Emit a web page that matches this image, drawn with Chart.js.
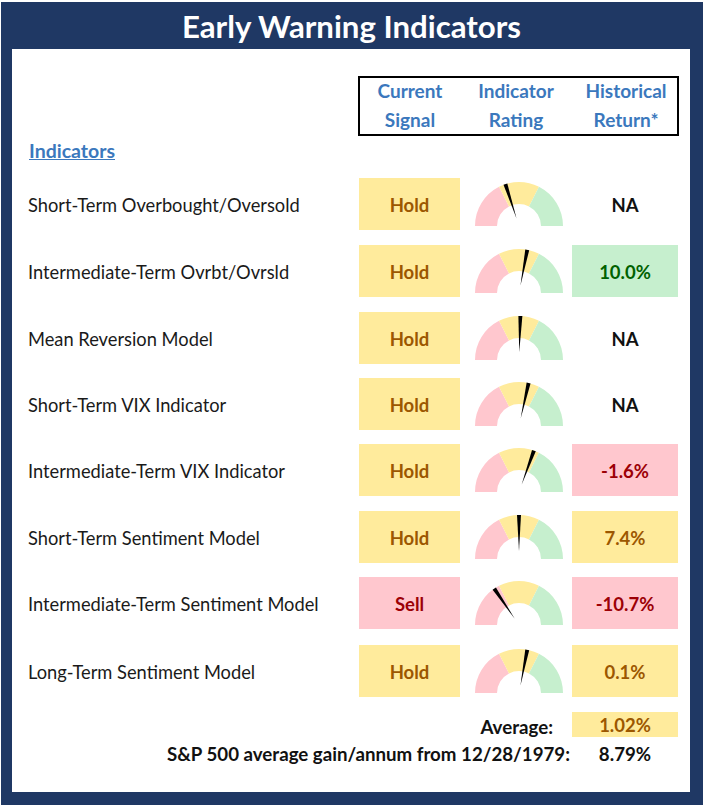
<!DOCTYPE html>
<html lang="en">
<head>
    <meta charset="UTF-8">
    <title>Early Warning Indicators</title>
    <style>
        html, body { margin: 0; padding: 0; background: #fff; }
        body { width: 703px; height: 807px; position: relative; overflow: hidden; font-family: Lato, "Open Sans", sans-serif; }
        .frame { position: absolute; left: 1px; top: 2px; width: 702px; height: 803px; background: #1f3864; }
        .paper { position: absolute; left: 12px; top: 49px; width: 678px; height: 743px; background: #fff; }
        .title { position: absolute; left: 0; width: 703px; top: 5px; text-align: center; color: #fff; font-size: 31.2px; font-weight: 700; line-height: 42px; }
        .headbox { position: absolute; left: 358px; top: 76px; width: 317px; height: 56px; border: 2px solid #000; }
        .head { position: absolute; width: 110px; text-align: center; color: #3b78bd; font-size: 19px; font-weight: 700; line-height: 29px; top: 76px; }
        .section { position: absolute; left: 29px; top: 139px; color: #3b78bd; font-size: 19.5px; font-weight: 700; text-decoration: underline; line-height: 24px; }
        .label { position: absolute; left: 28px; color: #1a1a1a; font-size: 18.3px; line-height: 24px; white-space: nowrap; }
        .cell { position: absolute; display: flex; align-items: center; justify-content: center; font-size: 18.5px; font-weight: 700; padding-top: 1px; box-sizing: border-box; }
        .signal { left: 359px; width: 101px; height: 52px; }
        .ret { left: 572px; width: 106px; height: 52px; }
        .hold { background: #ffeb9c; color: #9c5700; }
        .sell { background: #ffc7ce; color: #9c0006; }
        .buy { background: #c6efce; color: #006100; }
        .plain { color: #111; }
        .gauge { position: absolute; left: 475px; width: 88px; height: 44px; }
        .foot { position: absolute; font-size: 18.7px; font-weight: 700; color: #111; white-space: nowrap; line-height: 24px; }
    </style>
    <script src="https://cdn.jsdelivr.net/npm/chart.js"></script>
</head>
<body>
    <div class="frame"></div>
    <div class="paper"></div>
    <div class="title">Early Warning Indicators</div>
    <div class="headbox"></div>
    <div class="head" style="left:355px">Current<br>Signal</div>
    <div class="head" style="left:461px">Indicator<br>Rating</div>
    <div class="head" style="left:571px">Historical<br>Return*</div>
    <div class="section">Indicators</div>
    <div id="rows"></div>
    <div class="foot" style="right:150px;top:715px">Average:</div>
    <div class="cell hold" style="left:572px;width:106px;top:712px;height:25px">1.02%</div>
    <div class="foot" style="right:133px;top:742px">S&amp;P 500 average gain/annum from 12/28/1979:</div>
    <div class="foot" style="left:572px;width:106px;text-align:center;top:742px">8.79%</div>

    <script>
        const indicators = [
            'Short-Term Overbought/Oversold',
            'Intermediate-Term Ovrbt/Ovrsld',
            'Mean Reversion Model',
            'Short-Term VIX Indicator',
            'Intermediate-Term VIX Indicator',
            'Short-Term Sentiment Model',
            'Intermediate-Term Sentiment Model',
            'Long-Term Sentiment Model'
        ];
        const signals = ['Hold', 'Hold', 'Hold', 'Hold', 'Hold', 'Hold', 'Sell', 'Hold'];
        const returns = ['NA', '10.0%', 'NA', 'NA', '-1.6%', '7.4%', '-10.7%', '0.1%'];
        const returnClass = ['plain', 'buy', 'plain', 'plain', 'sell', 'hold', 'sell', 'hold'];

        // gauge bands (percent of the half circle) and needle readings 0-100
        const bandValues = [35, 30, 35];
        const bandColors = ['#ffc7ce', '#ffeb9c', '#c6efce'];
        const needleValues = [40, 56, 51, 57, 61, 50, 31, 56];

        const rowTops = [178, 245, 312, 378, 444, 511, 577, 645];

        // draws the needle from the reading, on top of the arcs
        const needlePlugin = {
            id: 'needle',
            afterDatasetsDraw(chart, args, opts) {
                const arc = chart.getDatasetMeta(0).data[0];
                const a = Math.PI + (opts.value / 100) * Math.PI;
                const r = arc.outerRadius;
                const ux = Math.cos(a), uy = Math.sin(a);
                const px = -uy, py = ux;
                const ctx = chart.ctx;
                ctx.save();
                ctx.fillStyle = '#000';
                ctx.beginPath();
                ctx.moveTo(arc.x + ux * r * 0.18, arc.y + uy * r * 0.18);
                ctx.lineTo(arc.x + ux * r + px * 2, arc.y + uy * r + py * 2);
                ctx.lineTo(arc.x + ux * r - px * 2, arc.y + uy * r - py * 2);
                ctx.closePath();
                ctx.fill();
                ctx.restore();
            }
        };

        const rows = document.getElementById('rows');
        indicators.forEach((name, i) => {
            const top = rowTops[i];
            rows.innerHTML += `
                <div class="label" style="top:${top + 15}px">${name}</div>
                <div class="cell signal ${signals[i].toLowerCase()}" style="top:${top}px">${signals[i]}</div>
                <canvas class="gauge" id="gauge${i}" width="88" height="44" style="top:${top + 4}px"></canvas>
                <div class="cell ret ${returnClass[i]}" style="top:${top}px">${returns[i]}</div>
            `;
        });

        indicators.forEach((name, i) => {
            new Chart(document.getElementById('gauge' + i), {
                type: 'doughnut',
                data: {
                    labels: ['Sell', 'Hold', 'Buy'],
                    datasets: [{ data: bandValues, backgroundColor: bandColors, borderWidth: 0 }]
                },
                options: {
                    responsive: false,
                    animation: false,
                    rotation: -90,
                    circumference: 180,
                    cutout: '50%',
                    plugins: {
                        legend: { display: false },
                        tooltip: { enabled: false },
                        needle: { value: needleValues[i] }
                    }
                },
                plugins: [needlePlugin]
            });
        });
    </script>
</body>
</html>
